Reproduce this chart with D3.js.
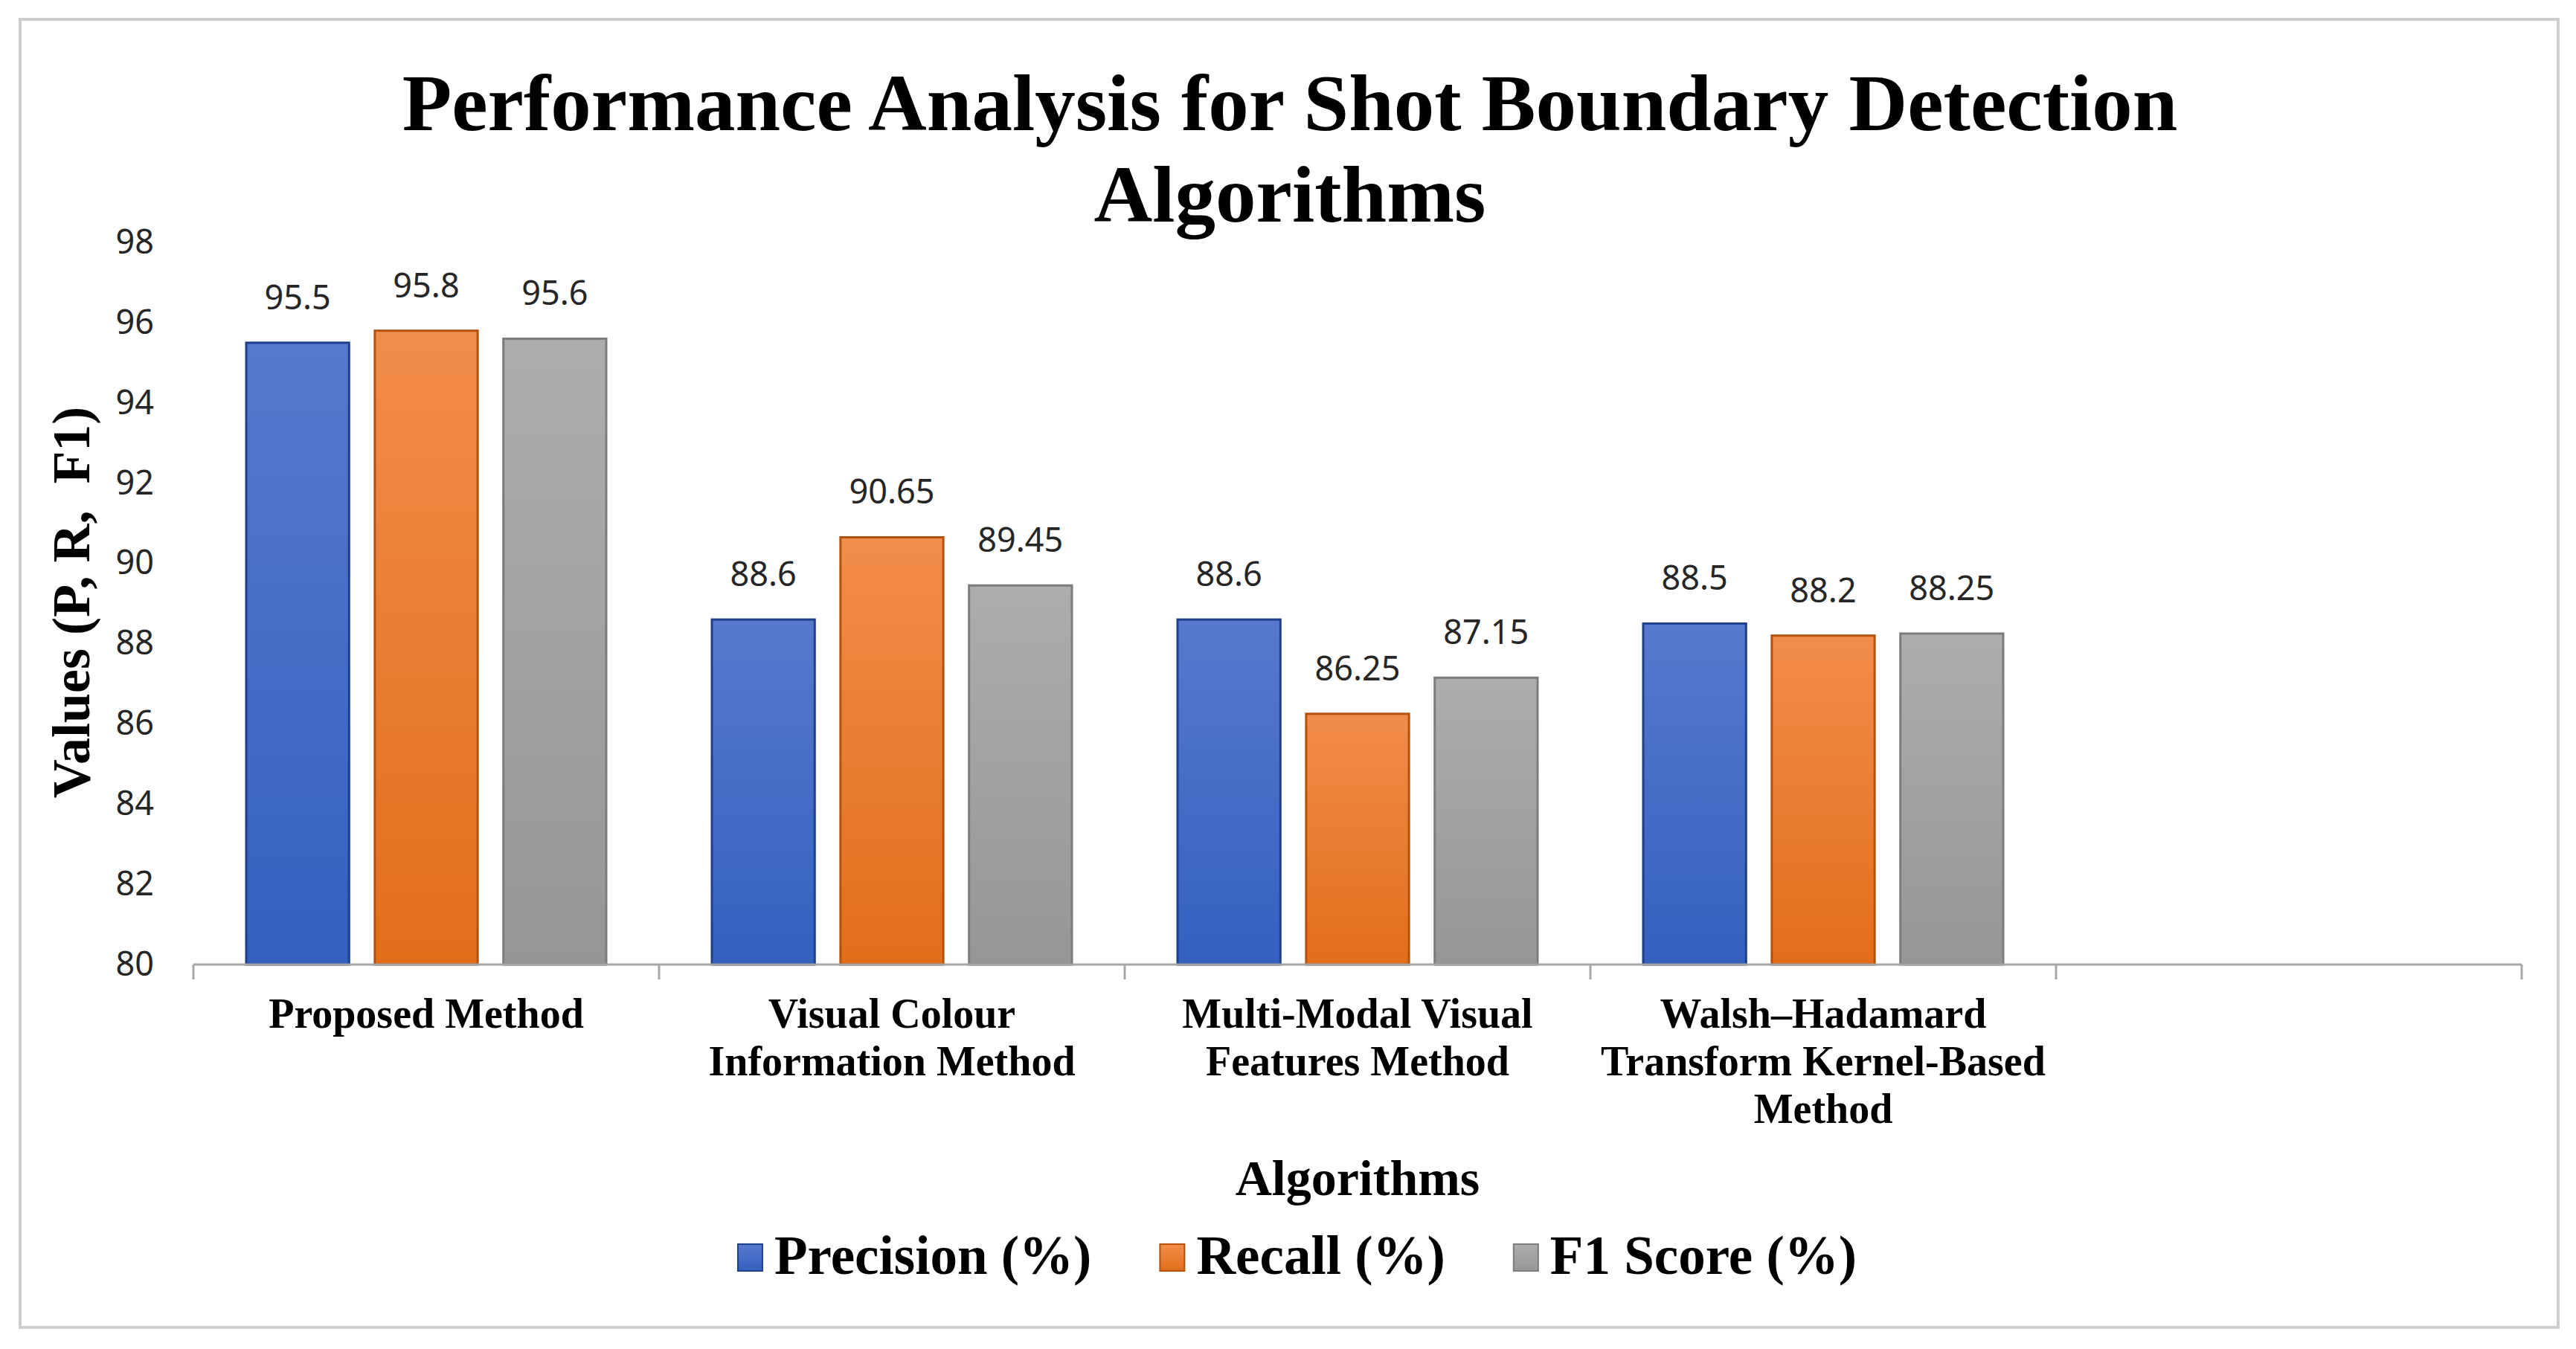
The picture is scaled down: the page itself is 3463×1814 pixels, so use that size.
<!DOCTYPE html>
<html>
<head>
<meta charset="utf-8">
<script src="https://cdn.jsdelivr.net/npm/d3@7"></script>
<style>
  body { margin: 0; background: #ffffff; }
  svg { display: block; }
</style>
</head>
<body>
<div id="chart"></div>
<script>
// Shot boundary detection - grouped bar chart
const categories = [
    "Proposed Method",
    "Visual Colour Information Method",
    "Multi-Modal Visual Features Method",
    "Walsh–Hadamard Transform Kernel-Based Method"
];
const categoryLines = [
    ["Proposed Method"],
    ["Visual Colour", "Information Method"],
    ["Multi-Modal Visual", "Features Method"],
    ["Walsh–Hadamard", "Transform Kernel-Based", "Method"]
];
const seriesNames = ["Precision (%)", "Recall (%)", "F1 Score (%)"];
const precision = [95.5, 88.6, 88.6, 88.5];
const recall = [95.8, 90.65, 86.25, 88.2];
const f1Score = [95.6, 89.45, 87.15, 88.25];
const yTicks = [80, 82, 84, 86, 88, 90, 92, 94, 96, 98];

const seriesValues = [precision, recall, f1Score];
const seriesStyle = [
    { top: "#5779cd", bottom: "#3361bf", stroke: "#1f3f8c" },
    { top: "#f18d4a", bottom: "#e26e1a", stroke: "#b4520d" },
    { top: "#adadad", bottom: "#969696", stroke: "#7c7c7c" }
];

const serif = "'Liberation Serif', 'Times New Roman', serif";
const sans = "'Noto Sans', 'Open Sans', sans-serif";

const width = 3463, height = 1814;
const plot = { left: 260, right: 3390, top: 326, bottom: 1297 };

const svg = d3.select("#chart")
    .append("svg")
    .attr("width", width)
    .attr("height", height)
    .attr("viewBox", `0 0 ${width} ${height}`);

svg.append("rect")
    .attr("width", width)
    .attr("height", height)
    .attr("fill", "#ffffff");

// chart border
svg.append("rect")
    .attr("x", 27)
    .attr("y", 26)
    .attr("width", 3412)
    .attr("height", 1759)
    .attr("fill", "none")
    .attr("stroke", "#cdcdcd")
    .attr("stroke-width", 4);

// gradients for bars
const defs = svg.append("defs");
seriesStyle.forEach((s, i) => {
    const g = defs.append("linearGradient")
        .attr("id", "grad" + i)
        .attr("x1", 0).attr("y1", 0)
        .attr("x2", 0).attr("y2", 1);
    g.append("stop").attr("offset", "0%").attr("stop-color", s.top);
    g.append("stop").attr("offset", "100%").attr("stop-color", s.bottom);
});

// title
const title = svg.append("text")
    .attr("text-anchor", "middle")
    .attr("font-family", serif)
    .attr("font-weight", "bold")
    .attr("font-size", "109px")
    .attr("fill", "#000");
title.append("tspan").attr("x", 1734).attr("y", 175)
    .text("Performance Analysis for Shot Boundary Detection");
title.append("tspan").attr("x", 1734).attr("y", 298)
    .text("Algorithms");

// scales
const slots = categories.concat([""]);   // Excel chart keeps an empty fifth slot
const x0 = d3.scaleBand()
    .domain(slots)
    .range([plot.left, plot.right])
    .padding(0);

const x1 = d3.scaleBand()
    .domain(seriesNames)
    .range([71, x0.bandwidth() - 71])
    .paddingInner(0.2)
    .paddingOuter(0);

const y = d3.scaleLinear()
    .domain([80, 98])
    .range([plot.bottom, plot.top]);

// y axis (labels only)
const yAxis = svg.append("g")
    .attr("transform", `translate(${plot.left},0)`)
    .call(d3.axisLeft(y).tickValues(yTicks).tickSize(0).tickPadding(53).tickFormat(d3.format("d")));
yAxis.select(".domain").remove();
yAxis.selectAll("text")
    .attr("font-family", sans)
    .attr("font-size", "45px")
    .attr("fill", "#262626");

// bars
const rows = categories.map((c, i) => ({
    category: c,
    values: seriesNames.map((s, j) => ({ series: s, idx: j, value: seriesValues[j][i] }))
}));

const groups = svg.append("g")
    .selectAll("g")
    .data(rows)
    .join("g")
    .attr("transform", d => `translate(${x0(d.category)},0)`);

groups.selectAll("rect")
    .data(d => d.values)
    .join("rect")
    .attr("x", d => x1(d.series))
    .attr("y", d => y(d.value))
    .attr("width", x1.bandwidth())
    .attr("height", d => y(80) - y(d.value))
    .attr("fill", d => `url(#grad${d.idx})`)
    .attr("stroke", d => seriesStyle[d.idx].stroke)
    .attr("stroke-width", 3);

groups.selectAll("text.val")
    .data(d => d.values)
    .join("text")
    .attr("class", "val")
    .attr("x", d => x1(d.series) + x1.bandwidth() / 2)
    .attr("y", d => y(d.value) - 45)
    .attr("text-anchor", "middle")
    .attr("font-family", sans)
    .attr("font-size", "45px")
    .attr("fill", "#262626")
    .text(d => String(d.value));

// x axis line and boundary ticks
const xAxis = svg.append("g")
    .attr("transform", `translate(0,${plot.bottom})`);
xAxis.append("line")
    .attr("x1", plot.left).attr("x2", plot.right)
    .attr("y1", 0).attr("y2", 0)
    .attr("stroke", "#a6a6a6")
    .attr("stroke-width", 3);
xAxis.selectAll("line.tick")
    .data(slots.map(d => x0(d)).concat([plot.right]))
    .join("line")
    .attr("class", "tick")
    .attr("x1", d => d).attr("x2", d => d)
    .attr("y1", 0).attr("y2", 20)
    .attr("stroke", "#a6a6a6")
    .attr("stroke-width", 3);

// category labels
const catLabels = xAxis.selectAll("text.cat")
    .data(categories)
    .join("text")
    .attr("class", "cat")
    .attr("text-anchor", "middle")
    .attr("font-family", serif)
    .attr("font-weight", "bold")
    .attr("font-size", "56px")
    .attr("fill", "#000");
catLabels.each(function (d, i) {
    const cx = x0(d) + x0.bandwidth() / 2;
    d3.select(this).selectAll("tspan")
        .data(categoryLines[i])
        .join("tspan")
        .attr("x", cx)
        .attr("y", (l, k) => 85 + k * 64)
        .text(l => l);
});

// axis titles
svg.append("text")
    .attr("x", (plot.left + plot.right) / 2)
    .attr("y", 1607)
    .attr("text-anchor", "middle")
    .attr("font-family", serif)
    .attr("font-weight", "bold")
    .attr("font-size", "68px")
    .attr("fill", "#000")
    .text("Algorithms");

svg.append("text")
    .attr("transform", "translate(120,810) rotate(-90)")
    .attr("text-anchor", "middle")
    .attr("font-family", serif)
    .attr("font-weight", "bold")
    .attr("font-size", "72px")
    .attr("fill", "#000")
    .style("white-space", "pre")
    .text("Values (P, R,  F1)");

// legend
const legend = svg.append("g");
const legendItems = legend.selectAll("g")
    .data(seriesNames)
    .join("g");
legendItems.append("rect")
    .attr("width", 33)
    .attr("height", 36)
    .attr("y", -40)
    .attr("fill", (d, i) => `url(#grad${i})`)
    .attr("stroke", (d, i) => seriesStyle[i].stroke)
    .attr("stroke-width", 2);
legendItems.append("text")
    .attr("x", 49)
    .attr("y", 0)
    .attr("font-family", serif)
    .attr("font-weight", "bold")
    .attr("font-size", "73px")
    .attr("fill", "#000")
    .text(d => d);

let offset = 0;
const itemX = [];
legendItems.each(function () {
    const w = 49 + d3.select(this).select("text").node().getComputedTextLength();
    itemX.push(offset);
    offset += w + 92;
});
const legendWidth = offset - 92;
const legendStart = 1744 - legendWidth / 2;
legendItems.attr("transform", (d, i) => `translate(${legendStart + itemX[i]},0)`);
legend.attr("transform", "translate(0,1713)");
</script>
</body>
</html>
